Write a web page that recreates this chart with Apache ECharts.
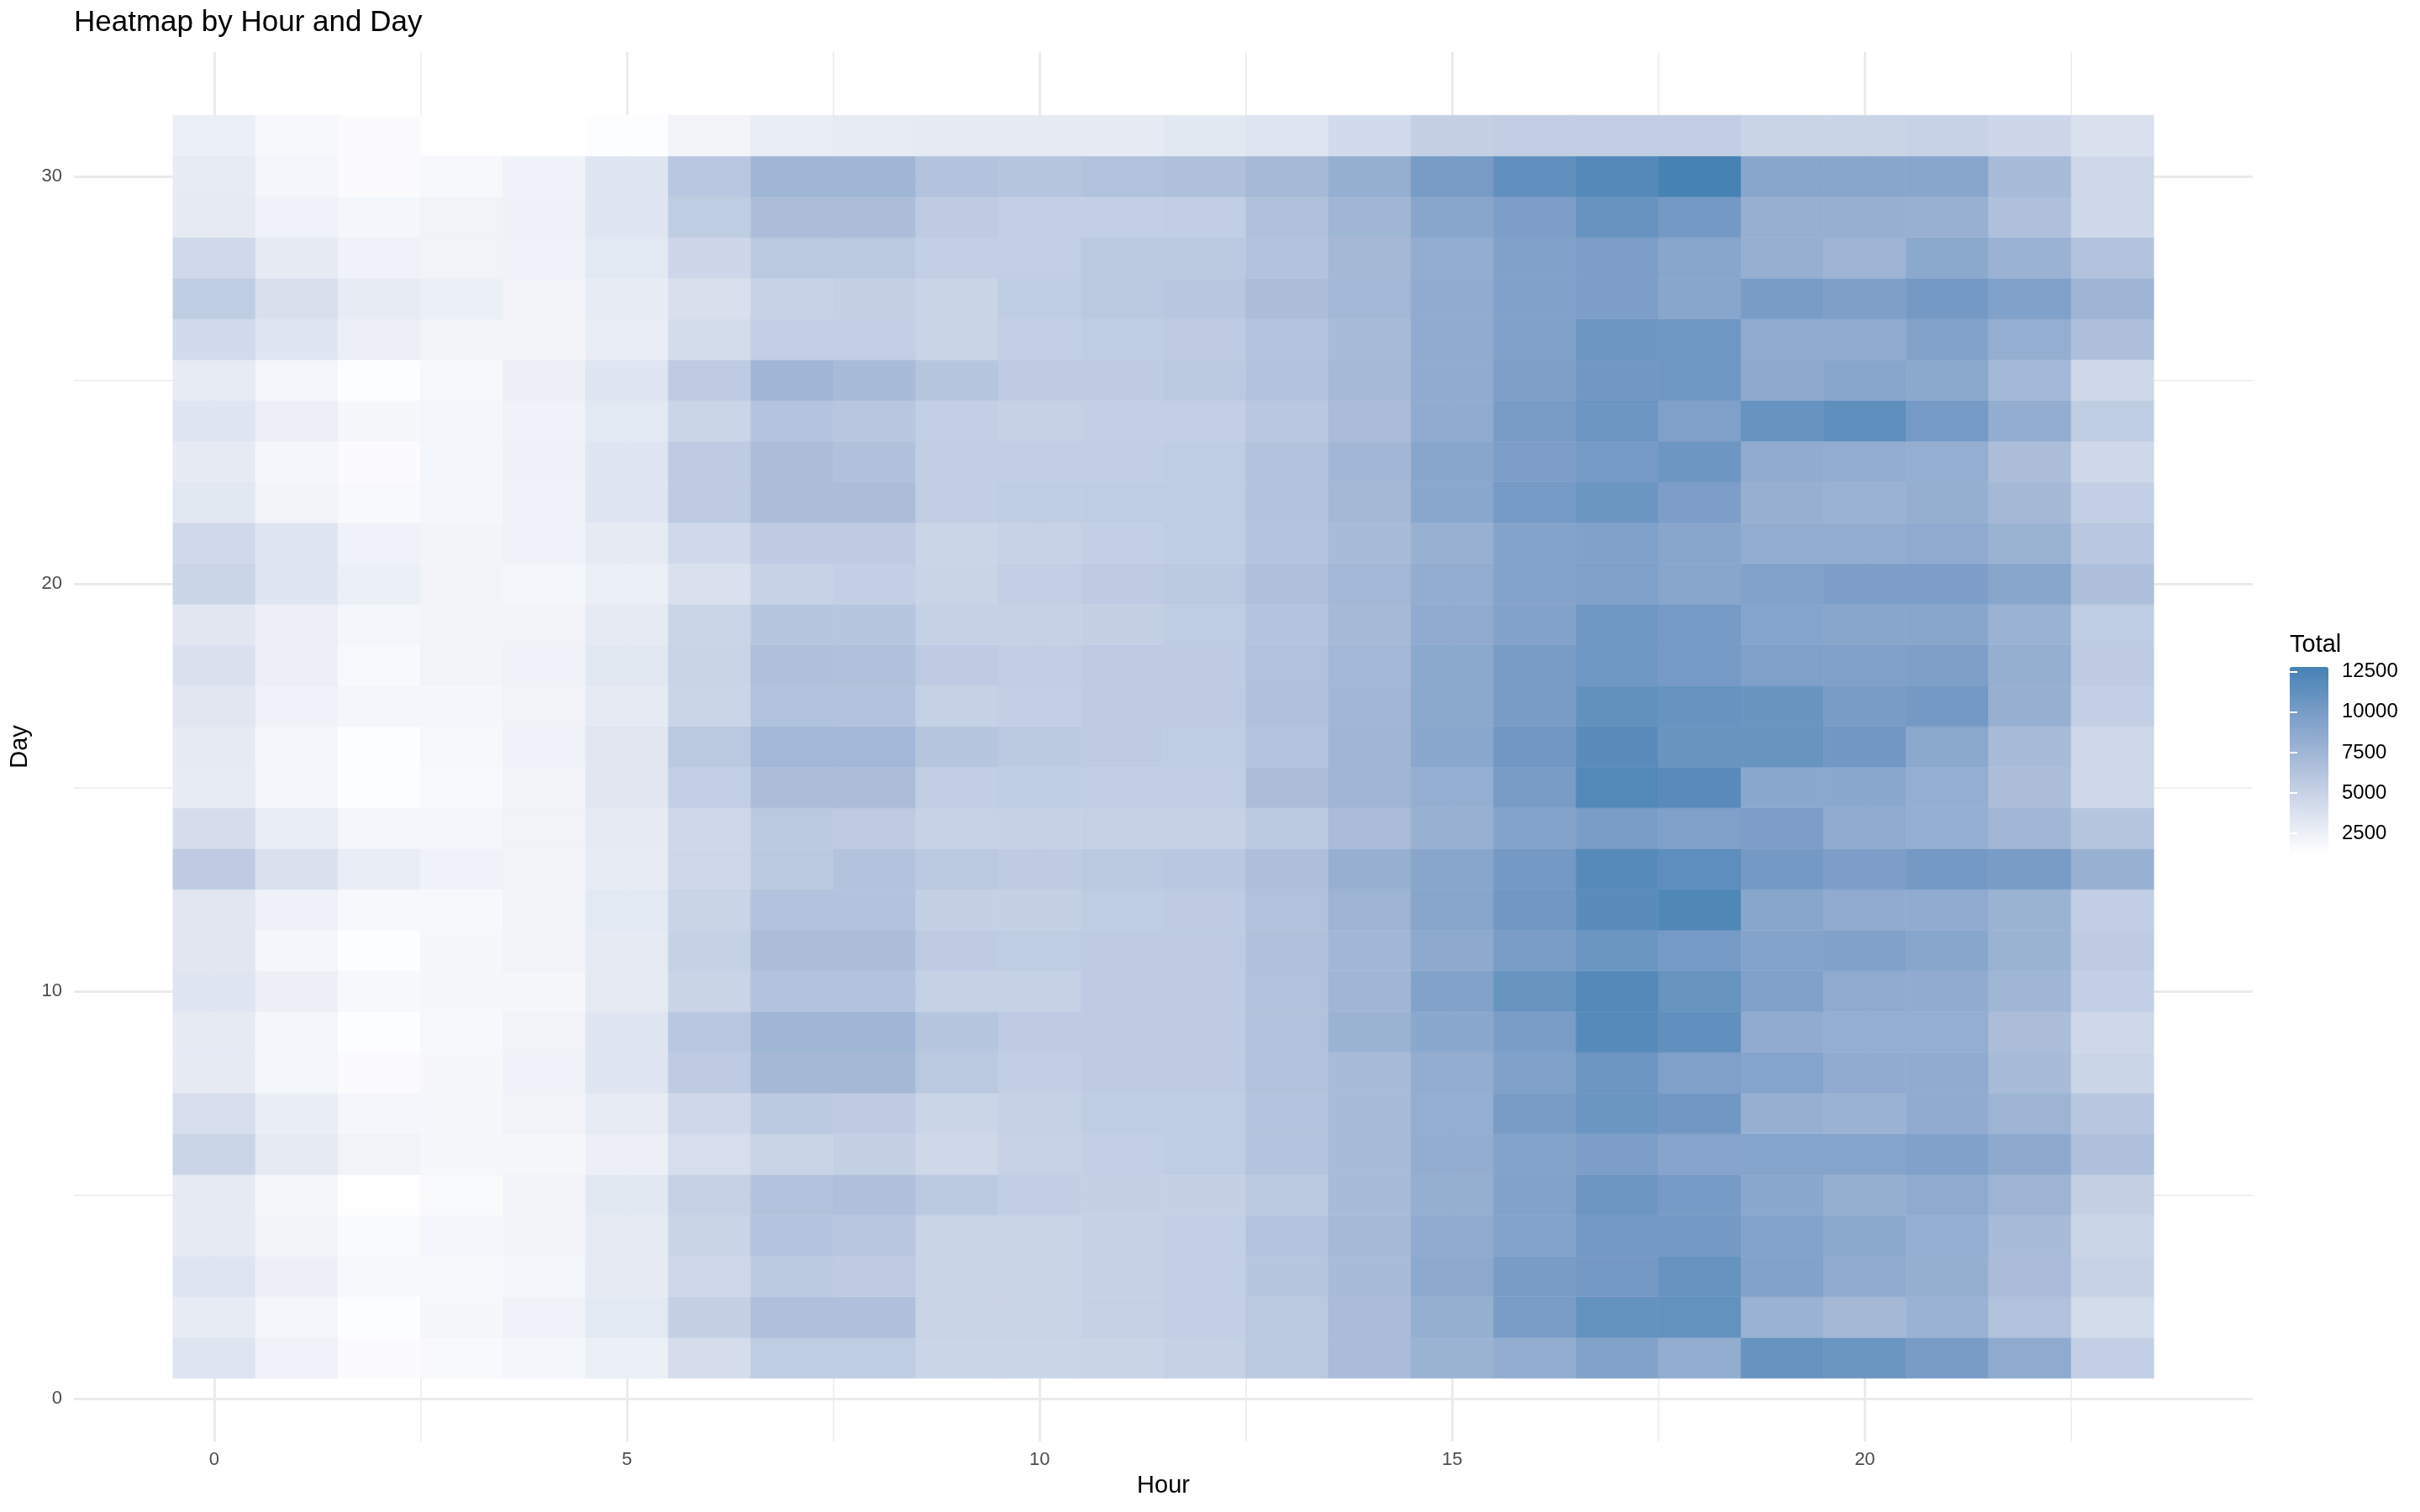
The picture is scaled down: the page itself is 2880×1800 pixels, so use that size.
<!DOCTYPE html>
<html>
<head>
<meta charset="utf-8">
<title>Heatmap by Hour and Day</title>
<script src="https://cdn.jsdelivr.net/npm/echarts@6/dist/echarts.min.js"></script>
<style>
  html, body { margin: 0; padding: 0; background: #ffffff; }
  #chart { width: 2880px; height: 1800px; }
</style>
</head>
<body>
<div id="chart"></div>
<script>
const hours = [0, 1, 2, 3, 4, 5, 6, 7, 8, 9, 10, 11, 12, 13, 14, 15, 16, 17, 18, 19, 20, 21, 22, 23]
const days = [1, 2, 3, 4, 5, 6, 7, 8, 9, 10, 11, 12, 13, 14, 15, 16, 17, 18, 19, 20, 21, 22, 23, 24, 25, 26, 27, 28, 29, 30, 31]

// one row per day (1..31), one value per hour (0..23)
const totals = [
  [3500, 2300, 1500, 1700, 2000, 2600, 4100, 5500, 5500, 4800, 4800, 4900, 5100, 5800, 6900, 7800, 8400, 9400, 8400, 11000, 10700, 10000, 8600, 5300],
  [2900, 2000, 1400, 1900, 2300, 3100, 5200, 6600, 6600, 4900, 4900, 5100, 5300, 5800, 6900, 8200, 9900, 11100, 11100, 7900, 7200, 7900, 6400, 4200],
  [3500, 2500, 1800, 1800, 2000, 3000, 4500, 5800, 5600, 4900, 4900, 5100, 5300, 6100, 7000, 8700, 10000, 10300, 11000, 9400, 8600, 8200, 6900, 5000],
  [3000, 2100, 1600, 2000, 2100, 3000, 4900, 6200, 6000, 4900, 4900, 5100, 5300, 6200, 7100, 8500, 9300, 10300, 10300, 9300, 8800, 8300, 7000, 4800],
  [3000, 1900, 1300, 1600, 2100, 3200, 5100, 6400, 6600, 5700, 5400, 5200, 5200, 5800, 7000, 8200, 9400, 10600, 10100, 8900, 8200, 8600, 7700, 5200],
  [4800, 3000, 2200, 1900, 1900, 2500, 4000, 4900, 5200, 4500, 5000, 5300, 5500, 6200, 7000, 8400, 9300, 9800, 9100, 9200, 9200, 9500, 8700, 6600],
  [4000, 2700, 2000, 1900, 2200, 2900, 4500, 5700, 5600, 4800, 5100, 5500, 5500, 6200, 7000, 8300, 10000, 10700, 10400, 8100, 7900, 8500, 7700, 6000],
  [3000, 2000, 1500, 1900, 2300, 3400, 5600, 7200, 7200, 5800, 5400, 5600, 5600, 6400, 7000, 8400, 9500, 10600, 9600, 9200, 8500, 8500, 7000, 4800],
  [3000, 2000, 1400, 1800, 2200, 3400, 5900, 7500, 7500, 6100, 5600, 5600, 5600, 6400, 7800, 8900, 9900, 11900, 11300, 8500, 8300, 8300, 6800, 4500],
  [3400, 2500, 1800, 1900, 1900, 3000, 4900, 6300, 6300, 5100, 5100, 5600, 5600, 6400, 7500, 9400, 10900, 12000, 10900, 9500, 8600, 8500, 7500, 5300],
  [3300, 2000, 1400, 1900, 2200, 3000, 5100, 6800, 6800, 5600, 5500, 5600, 5600, 6500, 7400, 8700, 9900, 10700, 10200, 9300, 9500, 9000, 7800, 5600],
  [3300, 2400, 1800, 1800, 2200, 3100, 4900, 6300, 6300, 5200, 5200, 5500, 5600, 6400, 7700, 9000, 10400, 11700, 12300, 9000, 8500, 8500, 7800, 5400],
  [5600, 3800, 2700, 2300, 2100, 2900, 4500, 5800, 6300, 5800, 5600, 5800, 5900, 6700, 8100, 9000, 10300, 11900, 11500, 10300, 9800, 10300, 10000, 8000],
  [4100, 2700, 2000, 2000, 2200, 3000, 4500, 5800, 5600, 5000, 5100, 5100, 5100, 5700, 6900, 8000, 9300, 9900, 9600, 9800, 8500, 8300, 7400, 6100],
  [2900, 2000, 1400, 1700, 2200, 3300, 5300, 6800, 6800, 5400, 5500, 5400, 5400, 6800, 7500, 8300, 10000, 12100, 11800, 8900, 8900, 8300, 6800, 4500],
  [3000, 2000, 1400, 1800, 2300, 3300, 5800, 7300, 7300, 6100, 5700, 5600, 5500, 6200, 7500, 8900, 10400, 11700, 10800, 10900, 10400, 8800, 7000, 4500],
  [3300, 2300, 2000, 2000, 2200, 3000, 4800, 6400, 6300, 5100, 5300, 5600, 5600, 6500, 7400, 8800, 10000, 11200, 11000, 10800, 10000, 10300, 8100, 5300],
  [3700, 2500, 1700, 2100, 2300, 3200, 4900, 6600, 6500, 5600, 5400, 5600, 5600, 6400, 7300, 8800, 10000, 10500, 10200, 9600, 9600, 9700, 8200, 5600],
  [3300, 2500, 2000, 2100, 2200, 3000, 4800, 6100, 6100, 5100, 5100, 5200, 5500, 6200, 7100, 8500, 9400, 10500, 10200, 9200, 9000, 9000, 7900, 5500],
  [4800, 3400, 2600, 2200, 2000, 2600, 3800, 5000, 5300, 4900, 5300, 5600, 5700, 6600, 7300, 8400, 9300, 9600, 9000, 9400, 9800, 9800, 9000, 6700],
  [4400, 3400, 2300, 2100, 2300, 3000, 4400, 5600, 5600, 4800, 5000, 5300, 5500, 6200, 7000, 8000, 9300, 9500, 9000, 8400, 8400, 8600, 7800, 5900],
  [3200, 2100, 1700, 2000, 2300, 3400, 5600, 6800, 6800, 5400, 5500, 5500, 5500, 6300, 7200, 8900, 10200, 10700, 9800, 8100, 7900, 8200, 7200, 5300],
  [3000, 2000, 1500, 2000, 2400, 3400, 5600, 6800, 6500, 5400, 5400, 5400, 5500, 6300, 7400, 9000, 9800, 10200, 10600, 8500, 8400, 8300, 6800, 4500],
  [3400, 2500, 1900, 2000, 2300, 3100, 4800, 6200, 6000, 5300, 5100, 5300, 5300, 5900, 6900, 8500, 10000, 10600, 9600, 11000, 11400, 10200, 8400, 5500],
  [2900, 2000, 1400, 1800, 2500, 3400, 5600, 7500, 7000, 6100, 5600, 5600, 5800, 6300, 7100, 8500, 9700, 10400, 10500, 8700, 9000, 8800, 7300, 4500],
  [4300, 3400, 2500, 2200, 2100, 2700, 4200, 5300, 5300, 4900, 5300, 5500, 5600, 6200, 7000, 8500, 9500, 10600, 10500, 8600, 8500, 9400, 8300, 6700],
  [5500, 3900, 2900, 2600, 2100, 2800, 3900, 5000, 5200, 4900, 5500, 5800, 6000, 6800, 7300, 8500, 9500, 9800, 9000, 10000, 9700, 10300, 9500, 7700],
  [4400, 3000, 2300, 2200, 2300, 3100, 4600, 5800, 5800, 5300, 5300, 5800, 5800, 6300, 7200, 8400, 9500, 9800, 9000, 8100, 7700, 8800, 7900, 6300],
  [3000, 2300, 2000, 2200, 2400, 3400, 5500, 6800, 6800, 5600, 5300, 5300, 5400, 6500, 7500, 9000, 9800, 11000, 10300, 8100, 8100, 8000, 6600, 4500],
  [2900, 2000, 1500, 1800, 2300, 3400, 5900, 7500, 7500, 6300, 6100, 6400, 6600, 7100, 8200, 10000, 11300, 12000, 12800, 9000, 9000, 9000, 7000, 4500],
  [2600, 1800, 1500, 1300, 1200, 1400, 2100, 2700, 2900, 3000, 3000, 3000, 3200, 3500, 4300, 5200, 5400, 5400, 5400, 4900, 4900, 5000, 4600, 3800]
]

const xMajorTicks = [0, 5, 10, 15, 20]
const xMinorTicks = [2.5, 7.5, 12.5, 17.5, 22.5]
const yMajorTicks = [0, 10, 20, 30]
const yMinorTicks = [5, 15, 25]
const legendTicks = [2500, 5000, 7500, 10000, 12500]
const totalMin = 1200
const totalMax = 12800

const FONT = 'Liberation Sans, Arial, sans-serif'
const GRID_MAJOR = '#EBEBEB'

// tiles span half a unit either side, ggplot adds 5% on each side
const xPad = 0.05 * hours.length
const yPad = 0.05 * days.length
const xMin = hours[0] - 0.5 - xPad
const xMax = hours[hours.length - 1] + 0.5 + xPad
const yMin = days[0] - 0.5 - yPad
const yMax = days[days.length - 1] + 0.5 + yPad

const cells = []
days.forEach((day, i) => {
  hours.forEach((hour, j) => {
    cells.push([hour, day, totals[i][j]])
  })
})

const chart = echarts.init(document.getElementById('chart'))

const option = {
  backgroundColor: '#ffffff',
  animation: false,
  title: [
    {
      text: 'Heatmap by Hour and Day',
      left: 88,
      top: 10,
      padding: 0,
      textStyle: { fontFamily: FONT, fontSize: 35, fontWeight: 'normal', color: '#000000' }
    },
    {
      text: 'Total',
      left: 2725,
      top: 753,
      padding: 0,
      textStyle: { fontFamily: FONT, fontSize: 29, fontWeight: 'normal', color: '#000000' }
    }
  ],
  grid: [
    { left: 88, top: 62, right: 199, bottom: 84 },
    { left: 2725, top: 794, width: 46, height: 223 }
  ],
  xAxis: [
    {
      type: 'value',
      gridIndex: 0,
      position: 'bottom',
      min: xMin,
      max: xMax,
      name: 'Hour',
      nameLocation: 'middle',
      nameGap: 38,
      nameTextStyle: { fontFamily: FONT, fontSize: 29, color: '#000000' },
      axisLine: { show: false },
      axisTick: { show: false, customValues: xMajorTicks },
      axisLabel: { customValues: xMajorTicks, fontFamily: FONT, fontSize: 22, color: '#4D4D4D', margin: 11 },
      splitLine: { show: true, lineStyle: { color: GRID_MAJOR, width: 3 } }
    },
    {
      type: 'value',
      gridIndex: 0,
      position: 'top',
      min: xMin,
      max: xMax,
      axisLine: { show: false },
      axisTick: { show: false, customValues: xMinorTicks },
      axisLabel: { show: false },
      splitLine: { show: true, lineStyle: { color: GRID_MAJOR, width: 1.5 } }
    },
    {
      type: 'value',
      gridIndex: 1,
      min: 0,
      max: 1,
      show: false
    }
  ],
  yAxis: [
    {
      type: 'value',
      gridIndex: 0,
      position: 'left',
      min: yMin,
      max: yMax,
      name: 'Day',
      nameLocation: 'middle',
      nameRotate: 90,
      nameGap: 46,
      nameTextStyle: { fontFamily: FONT, fontSize: 29, color: '#000000' },
      axisLine: { show: false },
      axisTick: { show: false, customValues: yMajorTicks },
      axisLabel: { customValues: yMajorTicks, fontFamily: FONT, fontSize: 22, color: '#4D4D4D', margin: 14 },
      splitLine: { show: true, lineStyle: { color: GRID_MAJOR, width: 3 } }
    },
    {
      type: 'value',
      gridIndex: 0,
      position: 'right',
      min: yMin,
      max: yMax,
      axisLine: { show: false },
      axisTick: { show: false, customValues: yMinorTicks },
      axisLabel: { show: false },
      splitLine: { show: true, lineStyle: { color: GRID_MAJOR, width: 1.5 } }
    },
    {
      // legend labels + white ticks on the right edge of the colour bar
      type: 'value',
      gridIndex: 1,
      position: 'right',
      min: totalMin,
      max: totalMax,
      z: 10,
      axisLine: { show: false },
      axisTick: { show: true, inside: true, length: 9, customValues: legendTicks, lineStyle: { color: '#ffffff', width: 2 } },
      axisLabel: {
        customValues: legendTicks,
        formatter: (v) => String(v),
        fontFamily: FONT,
        fontSize: 24,
        color: '#000000',
        margin: 16
      },
      splitLine: { show: false }
    },
    {
      type: 'value',
      gridIndex: 1,
      position: 'left',
      min: totalMin,
      max: totalMax,
      z: 10,
      axisLine: { show: false },
      axisTick: { show: true, inside: true, length: 9, customValues: legendTicks, lineStyle: { color: '#ffffff', width: 2 } },
      axisLabel: { show: false },
      splitLine: { show: false }
    }
  ],
  visualMap: {
    type: 'continuous',
    seriesIndex: 0,
    dimension: 2,
    min: totalMin,
    max: totalMax,
    calculable: false,
    hoverLink: false,
    left: 2725,
    top: 794,
    padding: 0,
    itemWidth: 46,
    itemHeight: 223,
    inRange: {
      color: ['#FFFFFF', '#D5DDEC', '#A8BBD8', '#7A9DC7', '#4682B4']
    }
  },
  series: [
    {
      type: 'custom',
      xAxisIndex: 0,
      yAxisIndex: 0,
      encode: { x: 0, y: 1 },
      data: cells,
      renderItem: function (params, api) {
        const hour = api.value(0)
        const day = api.value(1)
        const topLeft = api.coord([hour - 0.5, day + 0.5])
        const bottomRight = api.coord([hour + 0.5, day - 0.5])
        const color = api.visual('color')
        return {
          type: 'rect',
          shape: {
            x: topLeft[0],
            y: topLeft[1],
            width: bottomRight[0] - topLeft[0],
            height: bottomRight[1] - topLeft[1]
          },
          style: { fill: color, stroke: color, lineWidth: 0.6 }
        }
      }
    }
  ]
}

chart.setOption(option)
</script>
</body>
</html>
